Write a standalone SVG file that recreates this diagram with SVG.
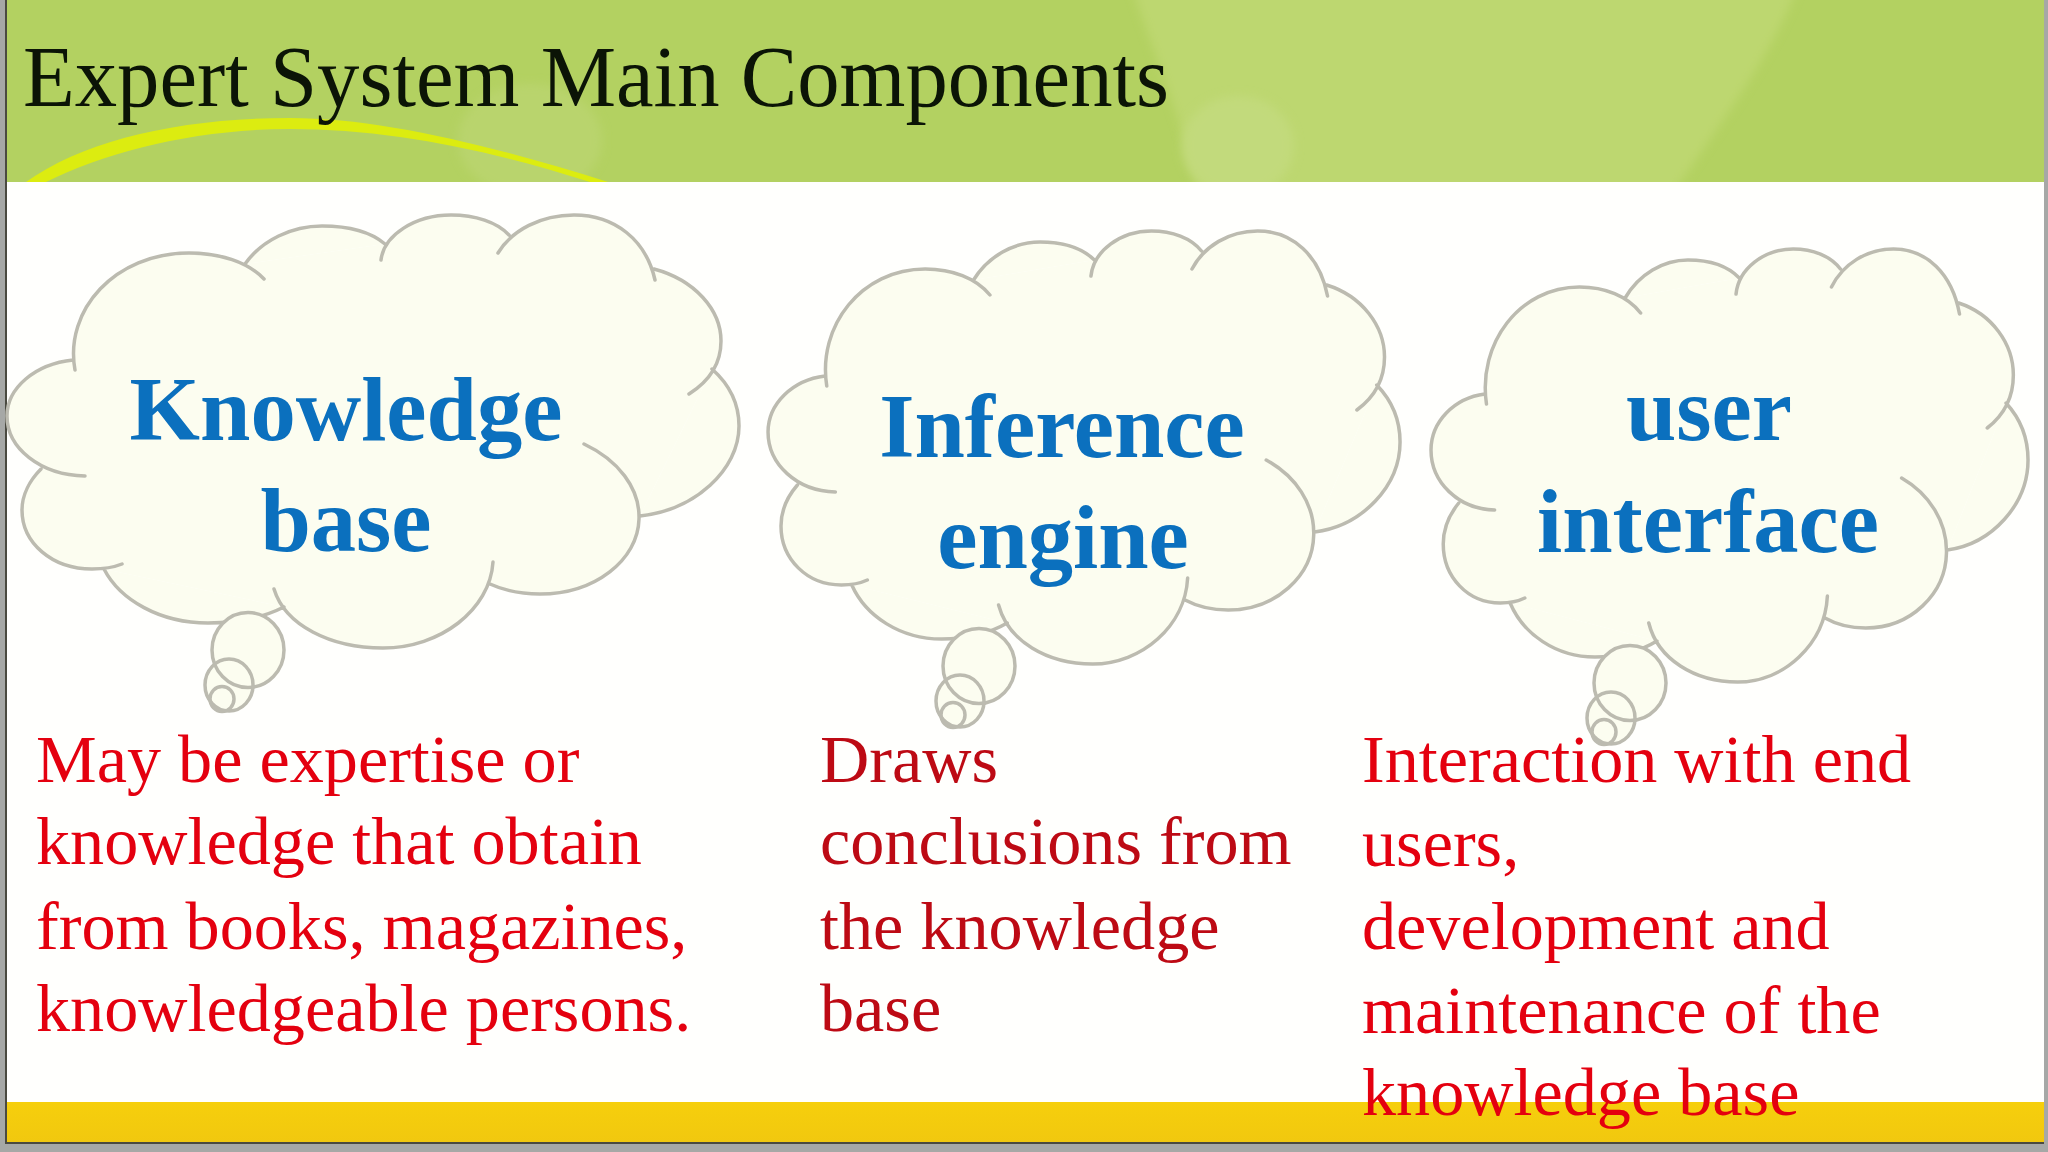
<svg xmlns="http://www.w3.org/2000/svg" width="2048" height="1152" viewBox="0 0 2048 1152">
<style>
.cloud{fill:#fcfdf0;stroke:#bcbbb0;stroke-width:3.5;stroke-linecap:round;vector-effect:non-scaling-stroke}
.base{fill:#fcfdf0;stroke:none}
.tailfill{fill:#fcfdf0;stroke:none}
.tail{fill:none;stroke:#bcbbb0;stroke-width:3.5}
text{font-family:"Liberation Serif","Times New Roman",serif}
.title{font-size:87px;fill:#0b1406}
.label{font-size:90.6px;font-weight:bold;fill:#0b70be;text-anchor:middle}
.desc{font-size:68.2px;fill:#e4000f}
.dark{fill:#bd0a14}
</style>
<defs>
<filter id="soft" x="-10%" y="-20%" width="120%" height="140%"><feGaussianBlur stdDeviation="5"/></filter>
<clipPath id="band"><rect x="7" y="0" width="2037" height="182"/></clipPath>
<linearGradient id="gold" x1="0" y1="0" x2="0" y2="1"><stop offset="0" stop-color="#f6cf0c"/><stop offset="1" stop-color="#f1c80f"/></linearGradient>
<g id="cloud">
<path class="base" d="M73 360L245 264L385 244L509 235L654 269L712 369L640 516L490 584L284 607L104 569L41 469Z"/>
<path class="cloud" d="M75 370C64 310 115 253 189 253C220 253 248 262 264 279
M245 264C262 240 292 226 322 226C350 226 372 233 385 244
M381 260C384 235 415 215 451 215C475 215 497 222 509 235
M498 253C512 230 541 215 574 215C615 215 646 240 655 280
M654 269C695 280 721 310 721 341C721 365 708 382 689 394
M712 369C730 385 739 405 739 426C739 470 695 510 640 516
M584 444C618 460 640 488 639 519C638 560 595 594 540 594C520 594 503 590 490 584
M493 562C490 610 440 648 383 648C330 648 285 625 274 589
M284 607C262 618 235 623 208 623C160 623 120 600 104 569
M122 564C112 568 102 569 92 569C52 569 22 543 22 510C22 495 30 480 41 469
M85 476C40 475 7 448 7 416C7 388 35 364 73 360"/>
</g>
<g id="bubbles">
<ellipse class="tailfill" cx="248" cy="650" rx="36" ry="37.5"/>
<ellipse class="tailfill" cx="229" cy="685" rx="24" ry="26"/>
<ellipse class="tail" cx="248" cy="650" rx="36" ry="37.5"/>
<ellipse class="tail" cx="229" cy="685" rx="24" ry="26"/>
<ellipse class="tail" cx="222" cy="699" rx="12" ry="12.5"/>
</g>
</defs>
<g id="slide">
<rect width="2048" height="1152" fill="#a6a8a6"/>
<rect x="5" y="0" width="2039" height="1144" fill="#4a4a40"/>
<rect x="7" y="0" width="2037" height="1142" fill="#fffffd"/>
<rect x="7" y="0" width="2037" height="182" fill="#b3d161"/>
<g clip-path="url(#band)">
<path d="M1130 -20C1155 60 1180 110 1200 200L1668 200C1730 110 1775 50 1800 -20Z" fill="#bdd770" filter="url(#soft)"/>
<ellipse cx="1238" cy="146" rx="56" ry="50" fill="#c2da7c" filter="url(#soft)"/>
<ellipse cx="530" cy="140" rx="72" ry="56" fill="#b9d46d" filter="url(#soft)"/>
</g>
<path d="M26 182C85 140 180 118 290 118C380 118 490 145 608 182L590 182C490 150 390 129 290 129C200 129 110 150 46 182Z" fill="#dcec10"/>
<rect x="7" y="1102" width="2037" height="40" fill="url(#gold)"/>
</g>
<g id="title"><text class="title" x="23" y="106" textLength="1146" lengthAdjust="spacingAndGlyphs">Expert System Main Components</text></g>
<g id="node-knowledge-base">
<use href="#cloud"/>
<use href="#bubbles"/>
<text class="label" x="346" y="440">Knowledge</text>
<text class="label" x="346" y="551">base</text>
</g>
<g id="node-inference-engine">
<use href="#cloud" transform="translate(762 0) scale(0.8634 1) translate(0 16)"/>
<use href="#bubbles" transform="translate(731 16)"/>
<text class="label" x="1062" y="457">Inference</text>
<text class="label" x="1063" y="568">engine</text>
</g>
<g id="node-user-interface">
<use href="#cloud" transform="translate(1425.3 0) scale(0.8156 1) translate(0 34)"/>
<use href="#bubbles" transform="translate(1382 33)"/>
<text class="label" x="1709" y="440">user</text>
<text class="label" x="1708" y="552">interface</text>
</g>
<g id="desc-knowledge-base">
<text class="desc" x="36" y="782">May be expertise or</text>
<text class="desc" x="36" y="864">knowledge that obtain</text>
<text class="desc" x="36" y="949">from books, magazines,</text>
<text class="desc" x="36" y="1031">knowledgeable persons.</text>
</g>
<g id="desc-inference-engine">
<text class="desc dark" x="820" y="782">Draws</text>
<text class="desc dark" x="820" y="864">conclusions from</text>
<text class="desc dark" x="820" y="949">the knowledge</text>
<text class="desc dark" x="820" y="1031">base</text>
</g>
<g id="desc-user-interface">
<text class="desc" x="1362" y="782">Interaction with end</text>
<text class="desc" x="1362" y="866">users,</text>
<text class="desc" x="1362" y="949">development and</text>
<text class="desc" x="1362" y="1033">maintenance of the</text>
<text class="desc" x="1362" y="1115">knowledge base</text>
</g>
</svg>
